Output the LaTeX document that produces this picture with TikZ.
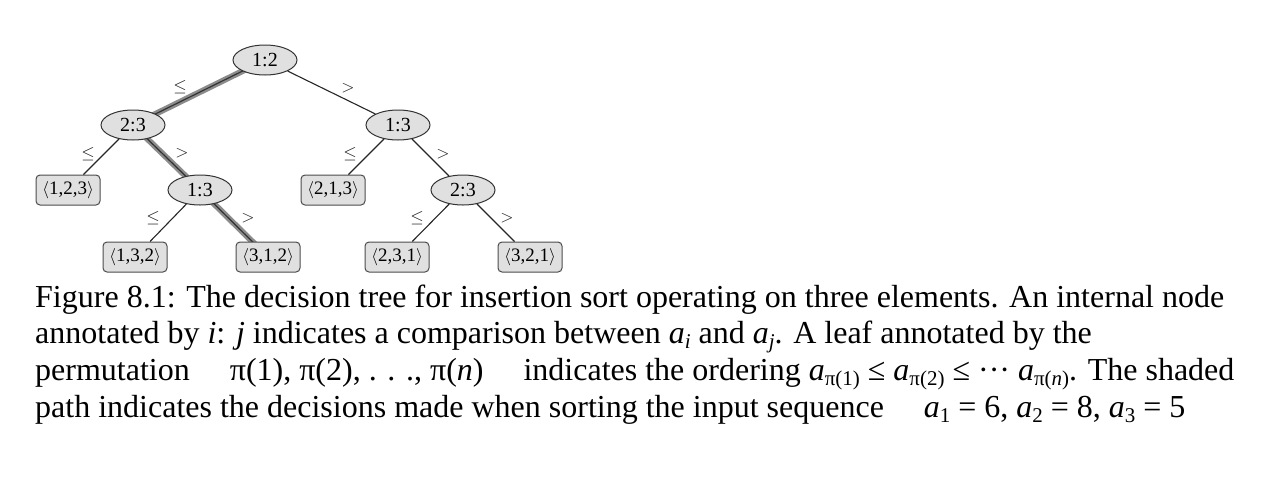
\documentclass[tikz,border=0pt]{standalone}
\usepackage{fontspec}
\setmainfont{Liberation Serif}
\usetikzlibrary{shapes.geometric}
\newcommand{\mysubx}[1]{\raisebox{-5pt}{\fontsize{21}{21}\selectfont #1}}
\begin{document}
\begin{tikzpicture}[x=1pt,y=-1pt,
  inner/.style={ellipse,draw=black!80,fill=black!12,line width=1pt,minimum width=64pt,minimum height=30pt,inner sep=0pt,font=\fontsize{20}{20}\selectfont},
  leaf/.style={rectangle,rounded corners=4pt,draw=black!70,fill=black!12,line width=1pt,minimum width=64pt,minimum height=30pt,inner sep=1pt,font=\fontsize{19}{19}\selectfont},
  edge/.style={draw=black!85,line width=1.1pt},
  shaded/.style={draw=black!45,line width=6pt,postaction={draw=black!80,line width=1.2pt}},
  lab/.style={font=\fontsize{19}{19}\selectfont,text=black!90},
  captxt/.style={anchor=base west,inner sep=0pt,font=\fontsize{32}{32}\selectfont}]
\useasboundingbox (0,0) rectangle (1276,480);
\path[shaded] (265,60) -- (133,125) -- (200,190) -- (268,257);
\node[inner] (r) at (265,60) {1:2};
\node[inner] (a) at (133,125) {2:3};
\node[inner] (b) at (398,125) {1:3};
\node[leaf] (l1) at (68,190) {$\langle$1,2,3$\rangle$};
\node[inner] (c) at (200,190) {1:3};
\node[leaf] (l2) at (333,190) {$\langle$2,1,3$\rangle$};
\node[inner] (d) at (463,190) {2:3};
\node[leaf] (l3) at (135,257) {$\langle$1,3,2$\rangle$};
\node[leaf] (l4) at (268,257) {$\langle$3,1,2$\rangle$};
\node[leaf] (l5) at (397,257) {$\langle$2,3,1$\rangle$};
\node[leaf] (l6) at (530,257) {$\langle$3,2,1$\rangle$};
\path[edge] (r) -- (b);
\path[edge] (a) -- (l1);
\path[edge] (b) -- (l2);
\path[edge] (b) -- (d);
\path[edge] (c) -- (l3);
\path[edge] (d) -- (l5);
\path[edge] (d) -- (l6);
\node[lab] (e1) at (180,87) {$\leq$};
\node[lab] (e2) at (348,88) {$>$};
\node[lab] (e3) at (88,154) {$\leq$};
\node[lab] (e4) at (182,153) {$>$};
\node[lab] (e5) at (350,154) {$\leq$};
\node[lab] (e6) at (443,154) {$>$};
\node[lab] (e7) at (153,218) {$\leq$};
\node[lab] (e8) at (248,218) {$>$};
\node[lab] (e9) at (417,218) {$\leq$};
\node[lab] (e10) at (507,218) {$>$};
\node[captxt] (t1) at (35,307) {Figure 8.1: The decision tree for insertion sort operating on three elements. An internal node};
\node[captxt] (t2) at (35,343) {annotated by \textit{i}: \textit{j} indicates a comparison between \textit{a}\mysubx{\textit{i}} and \textit{a}\mysubx{\textit{j}}. A leaf annotated by the};
\node[captxt] (t3) at (35,380) {permutation \quad π(1), π(2), . . ., π(\textit{n}) \quad indicates the ordering \textit{a}\mysubx{π(1)} ≤ \textit{a}\mysubx{π(2)} ≤ ··· \textit{a}\mysubx{π(\textit{n})}. The shaded};
\node[captxt] (t4) at (35,417) {path indicates the decisions made when sorting the input sequence \quad \textit{a}\mysubx{1} = 6, \textit{a}\mysubx{2} = 8, \textit{a}\mysubx{3} = 5};
\end{tikzpicture}
\end{document}
